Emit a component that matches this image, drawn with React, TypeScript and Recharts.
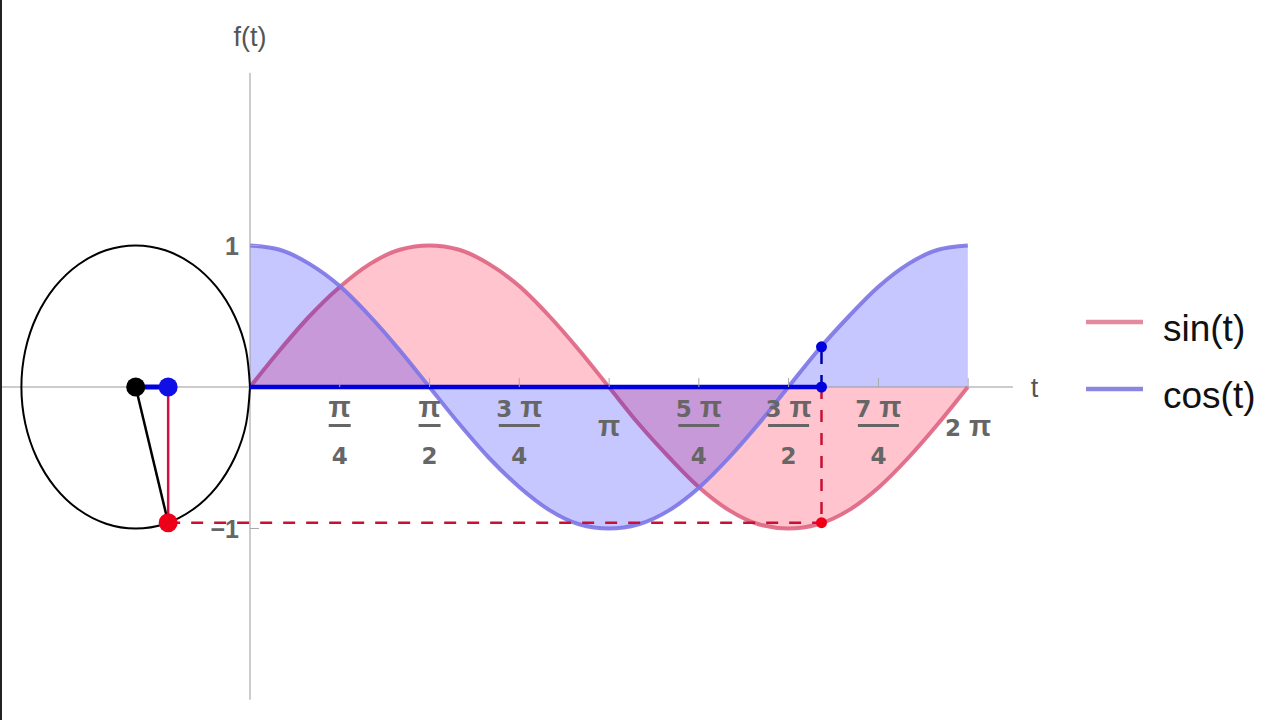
import React from 'react';
import { ComposedChart, Area, Line, XAxis, YAxis, ReferenceLine, ReferenceDot, Legend } from 'recharts';

// ---- data ----
const tValues = [0, 0.26, 0.52, 0.79, 1.05, 1.31, 1.57, 1.83, 2.09, 2.36, 2.62, 2.88, 3.14, 3.4, 3.67, 3.93, 4.19, 4.45, 4.71, 4.97, 5.24, 5.5, 5.76, 6.02, 6.28];
const sinValues = [0, 0.26, 0.5, 0.71, 0.87, 0.97, 1, 0.97, 0.87, 0.71, 0.5, 0.26, 0, -0.26, -0.5, -0.71, -0.87, -0.97, -1, -0.97, -0.87, -0.71, -0.5, -0.26, 0];
const cosValues = [1, 0.97, 0.87, 0.71, 0.5, 0.26, 0, -0.26, -0.5, -0.71, -0.87, -0.97, -1, -0.97, -0.87, -0.71, -0.5, -0.26, 0, 0.26, 0.5, 0.71, 0.87, 0.97, 1];

const circleXValues = [0, -0.034, -0.134, -0.293, -0.5, -0.741, -1, -1.259, -1.5, -1.707, -1.866, -1.966, -2, -1.966, -1.866, -1.707, -1.5, -1.259, -1, -0.741, -0.5, -0.293, -0.134, -0.034, 0];
const circleYValues = [0, 0.259, 0.5, 0.707, 0.866, 0.966, 1, 0.966, 0.866, 0.707, 0.5, 0.259, 0, -0.259, -0.5, -0.707, -0.866, -0.966, -1, -0.966, -0.866, -0.707, -0.5, -0.259, 0];

const xTickValues = [0.785, 1.571, 2.356, 3.142, 3.927, 4.712, 5.498, 6.283];
const xTickNumerators = ['π', 'π', '3 π', 'π', '5 π', '3 π', '7 π', '2 π'];
const xTickDenominators = ['4', '2', '4', '', '4', '2', '4', ''];
const yTickValues = [1, -1];
const yTickLabels = ['1', '−1'];

const seriesNames = ['sin(t)', 'cos(t)'];
const seriesKeys = ['sin', 'cos'];

const circleCenter = { x: -1, y: 0 };
const markerT = 5;
const markerCos = 0.284;
const markerSin = -0.959;
const pointX = -0.716;

const axisXStart = -2.17;
const axisXEnd = 6.675;
const axisYTop = 2.22;
const axisYBottom = -2.21;
const tLabelX = 6.83;
const fLabelY = 2.41;

// ---- layout ----
const W = 1280;
const H = 720;
const ORIGIN_X = 250;
const ORIGIN_Y = 387;
const PX_PER_X = 114.3;
const PX_PER_Y = 141.5;
const X_DOMAIN: [number, number] = [-ORIGIN_X / PX_PER_X, (W - ORIGIN_X) / PX_PER_X];
const Y_DOMAIN: [number, number] = [-(H - ORIGIN_Y) / PX_PER_Y, ORIGIN_Y / PX_PER_Y];
const FONT = '"Liberation Sans", Arial, Helvetica, sans-serif';
const TICK_FONT = '"DejaVu Sans", "Liberation Sans", sans-serif';

const SIN_FILL = 'rgb(255,0,40)';
const SIN_STROKE = '#DE6482';
const COS_FILL = 'rgb(0,0,255)';
const COS_STROKE = '#7C74E6';
const LEGEND_COLORS = ['#E38AA0', '#8A86E2'];

const tableData = tValues.map((t, i) => ({ t, sin: sinValues[i], cos: cosValues[i] }));
const circleData = circleXValues.map((x, i) => ({ t: x, y: circleYValues[i] }));

const tickText = { fontFamily: TICK_FONT, fontWeight: 700, fontSize: 23, fill: '#666' } as const;

function TickLabel({ x, y, label }: any) {
  return (
    <text x={x} y={y} textAnchor="middle" style={tickText}>
      {Array.from(label as string).map((ch, i) =>
        ch === 'π' ? (
          <tspan key={i} style={{ fontSize: 29, fontFamily: FONT }}>{ch}</tspan>
        ) : (
          <tspan key={i}>{ch === ' ' ? '\u00a0' : ch}</tspan>
        )
      )}
    </text>
  );
}

function XTickShape(props: any) {
  const { cx, cy, num, den } = props;
  const bw = num.length > 1 ? 41 : 22;
  return (
    <g>
      <line x1={cx} y1={cy} x2={cx} y2={cy - 9} stroke="#aaa" strokeWidth={1} />
      {den ? (
        <g>
          <TickLabel x={cx} y={cy + 30} label={num} />
          <line x1={cx - bw / 2} x2={cx + bw / 2} y1={cy + 38.5} y2={cy + 38.5} stroke="#666" strokeWidth={3} />
          <TickLabel x={cx} y={cy + 77} label={den} />
        </g>
      ) : (
        <TickLabel x={cx} y={cy + 49} label={num} />
      )}
    </g>
  );
}

function YTickShape(props: any) {
  const { cx, cy, label } = props;
  return (
    <g>
      <line x1={cx} y1={cy} x2={cx + 9} y2={cy} stroke="#aaa" strokeWidth={1} />
      <text x={cx - 11} y={cy + 9} textAnchor="end" style={{ fontFamily: FONT, fontWeight: 700, fontSize: 25, fill: '#666' }}>{label}</text>
    </g>
  );
}

function TextShape(props: any) {
  const { cx, cy, text, anchor } = props;
  return (
    <text x={cx} y={cy} textAnchor={anchor} style={{ fontFamily: FONT, fontSize: 27, fill: '#555' }}>{text}</text>
  );
}

function DotShape(props: any) {
  const { cx, cy, r, fill } = props;
  return <circle cx={cx} cy={cy} r={r} fill={fill} />;
}

function LegendContent() {
  return (
    <svg width={194} height={140}>
      {seriesNames.map((name, i) => (
        <g key={name}>
          <line x1={0} x2={57} y1={32 + i * 67} y2={32 + i * 67} stroke={LEGEND_COLORS[i]} strokeWidth={4.5} />
          <text x={77} y={51 + i * 67} style={{ fontFamily: FONT, fontSize: 37, fill: '#111' }}>{name}</text>
        </g>
      ))}
    </svg>
  );
}

export default function App() {
  return (
    <div style={{ position: 'absolute', left: 0, top: 0, width: W, height: H, background: '#fff' }}>
      <div style={{ position: 'absolute', left: 0, top: 0, width: 1.5, height: H, background: '#222' }} />
      <ComposedChart width={W} height={H} data={tableData} margin={{ top: 0, right: 0, bottom: 0, left: 0 }}>
        <XAxis type="number" dataKey="t" domain={X_DOMAIN} allowDataOverflow hide />
        <YAxis type="number" domain={Y_DOMAIN} allowDataOverflow hide />

        <ReferenceLine segment={[{ x: axisXStart, y: 0 }, { x: axisXEnd, y: 0 }]} stroke="#999" strokeWidth={1} />
        <ReferenceLine segment={[{ x: 0, y: axisYTop }, { x: 0, y: axisYBottom }]} stroke="#999" strokeWidth={1} />

        <Area type="monotone" dataKey={seriesKeys[0]} name={seriesNames[0]} baseValue={0} fill={SIN_FILL} fillOpacity={0.23} stroke={SIN_STROKE} strokeOpacity={0.9} strokeWidth={4} dot={false} activeDot={false} isAnimationActive={false} />
        <Area type="monotone" dataKey={seriesKeys[1]} name={seriesNames[1]} baseValue={0} fill={COS_FILL} fillOpacity={0.22} stroke={COS_STROKE} strokeOpacity={0.9} strokeWidth={4} dot={false} activeDot={false} isAnimationActive={false} />

        <Line data={circleData} dataKey="y" type="natural" stroke="#000" strokeWidth={2} dot={false} activeDot={false} legendType="none" isAnimationActive={false} />

        {xTickValues.map((v, i) => (
          <ReferenceDot key={'xt' + i} x={v} y={0} r={1} shape={(p: any) => <XTickShape {...p} num={xTickNumerators[i]} den={xTickDenominators[i]} />} />
        ))}
        {yTickValues.map((v, i) => (
          <ReferenceDot key={'yt' + i} x={0} y={v} r={1} shape={(p: any) => <YTickShape {...p} label={yTickLabels[i]} />} />
        ))}
        <ReferenceDot x={0} y={fLabelY} r={1} shape={(p: any) => <TextShape {...p} text="f(t)" anchor="middle" />} />
        <ReferenceDot x={tLabelX} y={0} r={1} shape={(p: any) => <TextShape {...p} cy={p.cy + 10} text="t" anchor="start" />} />

        <ReferenceLine segment={[{ x: 0, y: 0 }, { x: markerT, y: 0 }]} stroke="#0000DD" strokeWidth={4.5} />
        <ReferenceLine segment={[{ x: circleCenter.x, y: 0 }, { x: pointX, y: 0 }]} stroke="#0000DD" strokeWidth={5} />
        <ReferenceLine segment={[{ x: circleCenter.x, y: circleCenter.y }, { x: pointX, y: markerSin }]} stroke="#000" strokeWidth={2.5} />
        <ReferenceLine segment={[{ x: pointX, y: 0 }, { x: pointX, y: markerSin }]} stroke="#D01040" strokeWidth={2.5} />
        <ReferenceLine segment={[{ x: pointX, y: markerSin }, { x: markerT, y: markerSin }]} stroke="#C81034" strokeWidth={2.5} strokeDasharray="12 11" />
        <ReferenceLine segment={[{ x: markerT, y: 0 }, { x: markerT, y: markerSin }]} stroke="#C81034" strokeWidth={2.5} strokeDasharray="12 11" />
        <ReferenceLine segment={[{ x: markerT, y: 0 }, { x: markerT, y: markerCos }]} stroke="#0000AA" strokeWidth={2.5} strokeDasharray="12 11" />

        <ReferenceDot x={circleCenter.x} y={circleCenter.y} r={9.5} shape={(p: any) => <DotShape {...p} fill="#000" />} />
        <ReferenceDot x={pointX} y={0} r={9.5} shape={(p: any) => <DotShape {...p} fill="#1010E6" />} />
        <ReferenceDot x={pointX} y={markerSin} r={9.5} shape={(p: any) => <DotShape {...p} fill="#EE0018" />} />
        <ReferenceDot x={markerT} y={0} r={5.5} shape={(p: any) => <DotShape {...p} fill="#0000DD" />} />
        <ReferenceDot x={markerT} y={markerCos} r={5.5} shape={(p: any) => <DotShape {...p} fill="#0000DD" />} />
        <ReferenceDot x={markerT} y={markerSin} r={5.5} shape={(p: any) => <DotShape {...p} fill="#EE0018" />} />

        <Legend layout="horizontal" verticalAlign="middle" align="center" wrapperStyle={{ left: 1086, top: 290, width: 194, height: 140 }} content={() => <LegendContent />} />
      </ComposedChart>
    </div>
  );
}
